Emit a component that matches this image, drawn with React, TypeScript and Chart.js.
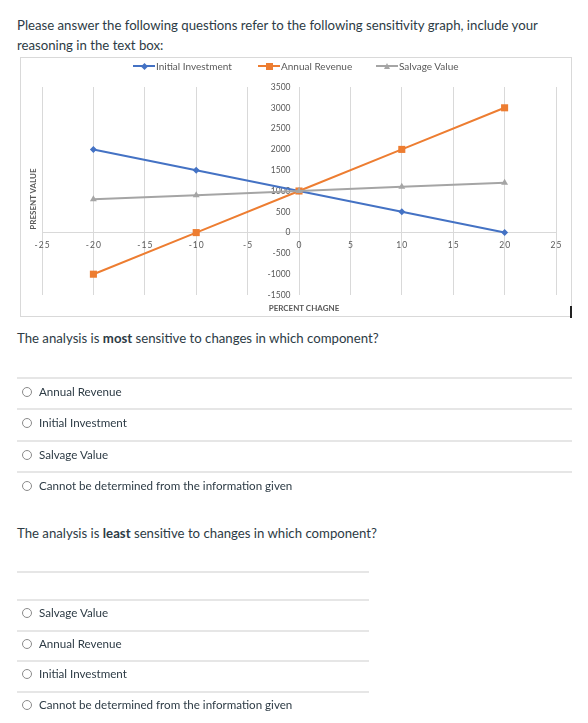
import React, { useEffect, useRef } from "react";
import { Chart, registerables } from "chart.js";

Chart.register(...registerables);

// ---- chart data ----
const percentChange = [-20, -10, 0, 10, 20];
const initialInvestment = [2000, 1500, 1000, 500, 0];
const annualRevenue = [-1000, 0, 1000, 2000, 3000];
const salvageValue = [800, 900, 1000, 1100, 1200];
const seriesNames = ["Initial Investment", "Annual Revenue", "Salvage Value"];
const seriesColors = ["#4472C4", "#ED7D31", "#A5A5A5"];
const xRange = [-25, 25];
const xStep = 5;
const yRange = [-1500, 3500];
const yStep = 500;
const xTitle = "PERCENT CHAGNE";
const yTitle = "PRESENT VALUE";

// ---- page text ----
const introLines = [
  "Please answer the following questions refer to the following sensitivity graph, include your",
  "reasoning in the text box:",
];
const q1Parts = ["The analysis is ", "most", " sensitive to changes in which component?"];
const q1Options = [
  "Annual Revenue",
  "Initial Investment",
  "Salvage Value",
  "Cannot be determined from the information given",
];
const q2Parts = ["The analysis is ", "least", " sensitive to changes in which component?"];
const q2Options = [
  "Salvage Value",
  "Annual Revenue",
  "Initial Investment",
  "Cannot be determined from the information given",
];

const TEXT = "#2D3B45";
const AXIS_TEXT = "#595959";
const FONT = "Lato, 'Open Sans', sans-serif";

function SensitivityChart() {
  const ref = useRef<HTMLCanvasElement | null>(null);
  useEffect(() => {
    if (!ref.current) return;
    const toPts = (ys: number[]) => percentChange.map((x, i) => ({ x, y: ys[i] }));
    const chart = new Chart(ref.current, {
      type: "scatter",
      data: {
        datasets: [
          {
            label: seriesNames[0],
            data: toPts(initialInvestment),
            showLine: true,
            borderColor: seriesColors[0],
            backgroundColor: seriesColors[0],
            borderWidth: 2,
            pointStyle: "rectRot",
            pointRadius: 3.5,
            pointBorderWidth: 0,
            order: 3,
          },
          {
            label: seriesNames[1],
            data: toPts(annualRevenue),
            showLine: true,
            borderColor: seriesColors[1],
            backgroundColor: seriesColors[1],
            borderWidth: 2,
            pointStyle: "rect",
            pointRadius: 5,
            pointBorderWidth: 0,
            order: 2,
          },
          {
            label: seriesNames[2],
            data: toPts(salvageValue),
            showLine: true,
            borderColor: seriesColors[2],
            backgroundColor: seriesColors[2],
            borderWidth: 2,
            pointStyle: "triangle",
            pointRadius: 4,
            pointBorderWidth: 0,
            order: 1,
          },
        ],
      },
      options: {
        animation: false,
        responsive: false,
        maintainAspectRatio: false,
        devicePixelRatio: 1,
        layout: { padding: { left: 22, right: 16, top: 30, bottom: 22 } },
        plugins: {
          legend: { display: false },
          tooltip: { enabled: false },
          title: { display: false },
        },
        scales: {
          x: {
            type: "linear",
            min: xRange[0],
            max: xRange[1],
            position: { y: 0 } as any,
            ticks: {
              stepSize: xStep,
              autoSkip: false,
              maxRotation: 0,
              padding: 8,
              color: AXIS_TEXT,
              font: { family: FONT, size: 8.5 },
              callback: (v: any) => String(v).split("").join("\u2009"),
            },
            grid: { color: "#D9D9D9", lineWidth: 1, drawTicks: false },
            border: { display: true, color: "#D9D9D9", width: 1 },
          },
          y: {
            type: "linear",
            min: yRange[0],
            max: yRange[1],
            position: { x: 0 } as any,
            ticks: {
              stepSize: yStep,
              autoSkip: false,
              padding: 8,
              color: AXIS_TEXT,
              font: { family: FONT, size: 8.5 },
              callback: (v: any) => String(v) + "\u2002\u2002",
            },
            grid: { display: false, drawTicks: false },
            border: { display: false },
          },
        },
      },
    });
    return () => chart.destroy();
  }, []);
  return (
    <canvas
      ref={ref}
      width={552}
      height={260}
      style={{ position: "absolute", left: 20, top: 57, width: 552, height: 260 }}
    />
  );
}

function LegendItem({ left, idx }: { left: number; idx: number }) {
  const color = seriesColors[idx];
  let marker: React.ReactNode = null;
  if (idx === 0) {
    marker = (
      <div
        style={{
          position: "absolute",
          left: 8.5,
          top: -2.5,
          width: 5,
          height: 5,
          background: color,
          transform: "rotate(45deg)",
        }}
      />
    );
  } else if (idx === 1) {
    marker = (
      <div style={{ position: "absolute", left: 7.5, top: -3.5, width: 7, height: 7, background: color }} />
    );
  } else {
    marker = (
      <div
        style={{
          position: "absolute",
          left: 7.5,
          top: -3.5,
          width: 0,
          height: 0,
          borderLeft: "3.5px solid transparent",
          borderRight: "3.5px solid transparent",
          borderBottom: `6px solid ${color}`,
        }}
      />
    );
  }
  return (
    <div style={{ position: "absolute", left, top: 66 }}>
      <div style={{ position: "absolute", left: 0, top: -1, width: 22, height: 2, background: color }} />
      {marker}
      <div
        style={{
          position: "absolute",
          left: 23,
          top: -7,
          height: 14,
          lineHeight: "14px",
          fontSize: 10,
          color: AXIS_TEXT,
          whiteSpace: "nowrap",
          fontFamily: FONT,
        }}
      >
        {seriesNames[idx]}
      </div>
    </div>
  );
}

function Radio({ cy, text }: { cy: number; text: string }) {
  return (
    <>
      <div
        style={{
          position: "absolute",
          left: 21.5,
          top: cy - 5.5,
          width: 10,
          height: 10,
          border: "1px solid #8A8A8A",
          borderRadius: "50%",
          boxSizing: "border-box",
          background: "#fff",
        }}
      />
      <div
        style={{
          position: "absolute",
          left: 39,
          top: cy - 10,
          height: 20,
          lineHeight: "20px",
          fontSize: 11.6,
          color: TEXT,
          whiteSpace: "nowrap",
        }}
      >
        {text}
      </div>
    </>
  );
}

function Sep({ y, right }: { y: number; right: number }) {
  return (
    <div
      style={{
        position: "absolute",
        left: 17,
        top: y - 1,
        width: right - 17,
        height: 2,
        background: "#E6E6E6",
      }}
    />
  );
}

function Question({ cy, parts }: { cy: number; parts: string[] }) {
  return (
    <div
      style={{
        position: "absolute",
        left: 17,
        top: cy - 10,
        height: 20,
        lineHeight: "20px",
        fontSize: 13.2,
        color: TEXT,
        whiteSpace: "nowrap",
      }}
    >
      {parts[0]}
      <b style={{ fontWeight: 700 }}>{parts[1]}</b>
      {parts[2]}
    </div>
  );
}

export default function App() {
  const q1Seps = [378, 409, 441, 472];
  const q1Ys = [392, 423, 455, 486];
  const q2Seps = [572, 600, 631, 661, 692];
  const q2Ys = [613, 644, 674, 705];
  return (
    <div
      style={{
        position: "absolute",
        left: 0,
        top: 0,
        width: 588,
        height: 723,
        background: "#fff",
        fontFamily: FONT,
        overflow: "hidden",
      }}
    >
      <div
        style={{
          position: "absolute",
          left: 17,
          top: 15,
          lineHeight: "20px",
          fontSize: 13.2,
          color: TEXT,
          whiteSpace: "nowrap",
        }}
      >
        {introLines[0]}
        <br />
        {introLines[1]}
      </div>

      {/* chart frame */}
      <div
        style={{
          position: "absolute",
          left: 20,
          top: 57,
          width: 552,
          height: 260,
          border: "1px solid #D9D9D9",
          boxSizing: "border-box",
          background: "#fff",
        }}
      />
      <SensitivityChart />
      <LegendItem left={133} idx={0} />
      <LegendItem left={258} idx={1} />
      <LegendItem left={376} idx={2} />
      <div
        style={{
          position: "absolute",
          left: 33,
          top: 199,
          transform: "translate(-50%, -50%) rotate(-90deg)",
          fontSize: 8,
          fontWeight: 700,
          color: AXIS_TEXT,
          whiteSpace: "nowrap",
          lineHeight: "10px",
        }}
      >
        {yTitle}
      </div>
      <div
        style={{
          position: "absolute",
          left: 304,
          top: 308,
          transform: "translate(-50%, -50%)",
          fontSize: 8,
          fontWeight: 700,
          color: AXIS_TEXT,
          whiteSpace: "nowrap",
          lineHeight: "10px",
        }}
      >
        {xTitle}
      </div>
      <div style={{ position: "absolute", left: 570, top: 306, width: 2, height: 12, background: "#222" }} />

      <Question cy={338} parts={q1Parts} />
      {q1Seps.map((y, i) => (
        <Sep key={"s1" + i} y={y} right={572} />
      ))}
      {q1Options.map((t, i) => (
        <Radio key={"o1" + i} cy={q1Ys[i]} text={t} />
      ))}

      <Question cy={533} parts={q2Parts} />
      {q2Seps.map((y, i) => (
        <Sep key={"s2" + i} y={y} right={369} />
      ))}
      {q2Options.map((t, i) => (
        <Radio key={"o2" + i} cy={q2Ys[i]} text={t} />
      ))}
    </div>
  );
}
